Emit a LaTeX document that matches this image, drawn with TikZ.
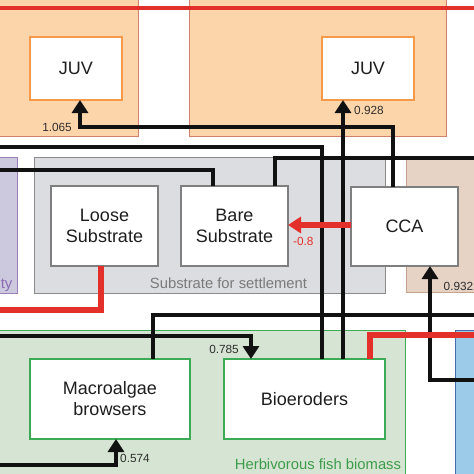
\documentclass[tikz,border=0pt]{standalone}
\usepackage{fontspec}
\setmainfont{Liberation Sans}
\usetikzlibrary{arrows.meta}
\definecolor{orangeF}{HTML}{FDD5AA}
\definecolor{orangeD}{HTML}{CF7F6C}
\definecolor{juvD}{HTML}{F59A4A}
\definecolor{redC}{HTML}{E4302A}
\definecolor{grayF}{HTML}{DCDDE0}
\definecolor{grayD}{HTML}{8A8A8A}
\definecolor{boxD}{HTML}{7F7F7F}
\definecolor{brownF}{HTML}{E6D3C6}
\definecolor{brownD}{HTML}{C4A38F}
\definecolor{purF}{HTML}{CCC9DE}
\definecolor{purD}{HTML}{9A7FB8}
\definecolor{purT}{HTML}{8C6BB1}
\definecolor{greenF}{HTML}{D6E5D3}
\definecolor{greenD}{HTML}{3DAA55}
\definecolor{greenT}{HTML}{3E9B4A}
\definecolor{blueF}{HTML}{9CCBEA}
\definecolor{blueD}{HTML}{4A6AB0}
\definecolor{textC}{HTML}{1E1E1E}
\definecolor{numC}{HTML}{2E2E2E}
\definecolor{subT}{HTML}{7A7A7A}
\definecolor{lineC}{HTML}{111111}
\begin{document}
\begin{tikzpicture}[x=1pt,y=-1pt,line join=miter,
  panel/.style={draw, line width=0.9pt, inner sep=0pt, outer sep=0pt},
  box/.style={draw, fill=white, line width=1.4pt, inner sep=0pt, outer sep=0pt,
    align=center, text=textC, font=\fontsize{18}{21}\selectfont},
  num/.style={inner sep=0pt, text=numC, font=\fontsize{11.8}{13}\selectfont},
  plabel/.style={inner sep=0pt, font=\fontsize{14.8}{16}\selectfont},
  blk/.style={draw=lineC, line width=4.8pt},
  thinblk/.style={draw=lineC, line width=3.4pt},
  redl/.style={draw=redC, line width=5.2pt},
  arr/.style={-{Triangle[length=13pt,width=16pt]}},
  rarr/.style={-{Triangle[length=13pt,width=16pt]}}]
\useasboundingbox (0,0) rectangle (474,474);
\clip (0,0) rectangle (474,474);
\fill[white] (0,0) rectangle (474,474);
% panels
\node[panel, fill=orangeF, draw=orangeD, minimum width=148pt, minimum height=146pt] (pJL) at (64,63) {};
\node[panel, fill=orangeF, draw=orangeD, minimum width=257pt, minimum height=146pt] (pJR) at (317.5,63) {};
\node[panel, fill=purF, draw=purD, minimum width=27pt, minimum height=136pt] (pPur) at (3.5,225) {};
\node[panel, fill=grayF, draw=grayD, minimum width=351pt, minimum height=136pt] (pSub) at (209.5,225) {};
\node[panel, fill=brownF, draw=brownD, minimum width=84pt, minimum height=135pt] (pCCA) at (448,224.5) {};
\node[panel, fill=greenF, draw=greenD, minimum width=415pt, minimum height=160pt] (pHerb) at (197.5,410) {};
\node[panel, fill=blueF, draw=blueD, minimum width=35pt, minimum height=160pt] (pBlue) at (472.5,410) {};
% panel labels
\node[plabel, text=purT, anchor=base east] (tPur) at (12.5,288) {ty};
\node[plabel, text=subT, anchor=base] (tSub) at (228.5,288.5) {Substrate for settlement};
\node[plabel, text=greenT, anchor=base] (tHerb) at (318,469.5) {Herbivorous fish biomass};
% boxes
\node[box, draw=juvD, minimum width=92pt, minimum height=63pt] (juvL) at (76,68.5) {JUV};
\node[box, draw=juvD, minimum width=92pt, minimum height=63pt] (juvR) at (368,68.5) {JUV};
\node[box, draw=boxD, minimum width=107pt, minimum height=80pt] (loose) at (104.5,226) {Loose\\Substrate};
\node[box, draw=boxD, minimum width=107pt, minimum height=80pt] (bare) at (234.5,226) {Bare\\Substrate};
\node[box, draw=boxD, minimum width=107pt, minimum height=79pt] (cca) at (404.5,226.5) {CCA};
\node[box, draw=greenD, minimum width=160pt, minimum height=80pt] (macro) at (110,399) {Macroalgae\\browsers};
\node[box, draw=greenD, minimum width=161pt, minimum height=80pt] (bio) at (304.5,399) {Bioeroders};
% coordinates
\coordinate (k1) at (393,127);
\coordinate (k2) at (80,127);
\coordinate (k3) at (343,0);
\coordinate (k4) at (322,147);
\coordinate (e1) at (-5,147);
\coordinate (k5) at (213,170);
\coordinate (e2) at (-5,170);
\coordinate (k6) at (275,158);
\coordinate (e3) at (480,158);
\coordinate (e4) at (480,315);
\coordinate (k7) at (153,315);
\coordinate (e5) at (-5,336);
\coordinate (k8) at (251,336);
\coordinate (k9) at (370,335);
\coordinate (e6) at (480,335);
\coordinate (e7) at (480,380);
\coordinate (k10) at (430,380);
\coordinate (e8) at (-5,465);
\coordinate (k11) at (116,465);
\coordinate (k12) at (101,310);
\coordinate (e9) at (-5,310);
\coordinate (ry) at (0,225);
\coordinate (e10) at (-5,8);
\coordinate (e11) at (480,8);
% black connectors
\draw[blk, arr] (k1 |- cca.north) -- (k1) -- (k2) -- (k2 |- juvL.south);
\draw[blk, arr] (k3 |- bio.north) -- (k3 |- juvR.south);
\draw[blk] (k4 |- bio.north) -- (k4) -- (e1);
\draw[thinblk] (k5 |- bare.north) -- (k5) -- (e2);
\draw[blk] (k6 |- bare.north) -- (k6) -- (e3);
\draw[blk] (e4) -- (k7) -- (k7 |- macro.north);
\draw[blk, arr] (e5) -- (k8) -- (k8 |- bio.north);
\draw[blk, arr] (e7) -- (k10) -- (k10 |- cca.south);
\draw[blk, arr] (e8) -- (k11) -- (k11 |- macro.south);
% red connectors
\draw[redl] (k9 |- bio.north) -- (k9) -- (e6);
\draw[redl] (k12 |- loose.south) -- (k12) -- (e9);
\draw[redl, rarr] (cca.west |- ry) -- (bare.east |- ry);
\draw[redl, line width=4.6pt] (e10) -- (e11);
% numbers
\node[num, anchor=east] (n1) at (72,127) {1.065};
\node[num, anchor=west] (n2) at (354,110.5) {0.928};
\node[num, anchor=west, text=redC] (n3) at (293,241) {-0.8};
\node[num, anchor=west] (n4) at (443.5,286) {0.932};
\node[num, anchor=east] (n5) at (239,349) {0.785};
\node[num, anchor=west] (n6) at (120,458) {0.574};
\end{tikzpicture}
\end{document}
